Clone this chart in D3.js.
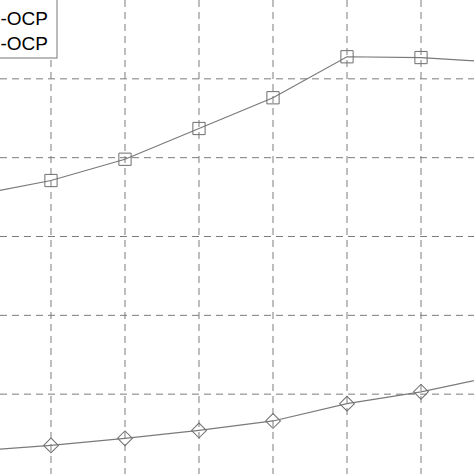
<!DOCTYPE html>
<html>
<head>
<meta charset="utf-8">
<script src="https://cdn.jsdelivr.net/npm/d3@7"></script>
<style>
  html, body { margin: 0; padding: 0; background: #fff; }
  svg { display: block; }
</style>
</head>
<body>
<script>
// x positions (index 0 and 7 lie just outside the visible crop)
var xValues = [0, 1, 2, 3, 4, 5, 6, 7];
var squareValues = [3.53, 3.71, 3.98, 4.37, 4.76, 5.28, 5.27, 5.21];
var diamondValues = [0.28, 0.35, 0.44, 0.54, 0.66, 0.88, 1.03, 1.23];
var xTicks = [1, 2, 3, 4, 5, 6];
var yTicks = [0, 1, 2, 3, 4, 5, 6];
var legendLabels = ['-OCP', '-OCP'];

var width = 474, height = 474;

var svg = d3.select('body').append('svg')
    .attr('width', width)
    .attr('height', height);

var x = d3.scaleLinear().domain([0.311, 6.716]).range([0, width]);
var y = d3.scaleLinear().domain([0, 6]).range([473, 0]);

// grid
svg.append('g').selectAll('line')
    .data(xTicks)
    .enter().append('line')
    .attr('x1', d => x(d)).attr('x2', d => x(d))
    .attr('y1', 0).attr('y2', height)
    .attr('stroke', '#7c7c7c')
    .attr('stroke-width', 1)
    .attr('stroke-dasharray', '7,5');

svg.append('g').selectAll('line')
    .data(yTicks.filter(d => d > 0 && d < 6))
    .enter().append('line')
    .attr('x1', 0).attr('x2', width)
    .attr('y1', d => y(d)).attr('y2', d => y(d))
    .attr('stroke', '#7c7c7c')
    .attr('stroke-width', 1)
    .attr('stroke-dasharray', '7,5');

var line = d3.line()
    .x((d, i) => x(xValues[i]))
    .y(d => y(d));

function drawSeries(values, diamond) {
    svg.append('path')
        .datum(values)
        .attr('d', line)
        .attr('fill', 'none')
        .attr('stroke', '#7a7a7a')
        .attr('stroke-width', 1.2);

    var sym = d3.symbol().type(d3.symbolSquare).size(diamond ? 110 : 150);
    svg.append('g').selectAll('path')
        .data(values.slice(1, 7))
        .enter().append('path')
        .attr('transform', (d, i) => 'translate(' + x(xValues[i + 1]) + ',' + y(d) + ')' +
            (diamond ? ' rotate(45)' : ''))
        .attr('d', sym)
        .attr('fill', 'none')
        .attr('stroke', '#6e6e6e')
        .attr('stroke-width', 1);
}

drawSeries(squareValues, false);
drawSeries(diamondValues, true);

// legend (cropped at the left edge)
svg.append('rect')
    .attr('x', -10).attr('y', -5)
    .attr('width', 67).attr('height', 63)
    .attr('fill', '#fff')
    .attr('stroke', '#777')
    .attr('stroke-width', 1);

svg.append('g').selectAll('text')
    .data(legendLabels)
    .enter().append('text')
    .attr('x', 48)
    .attr('y', (d, i) => 25 + i * 25)
    .attr('text-anchor', 'end')
    .attr('font-family', 'Liberation Sans, Arial, sans-serif')
    .attr('font-size', 19)
    .attr('fill', '#000')
    .text(d => d);
</script>
</body>
</html>
